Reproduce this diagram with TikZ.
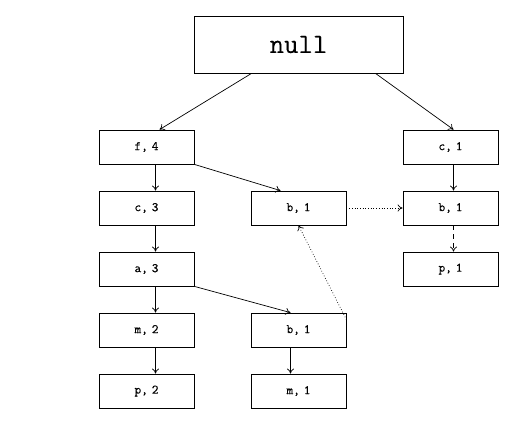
\documentclass[tikz,border=0pt]{standalone}
\usepackage{fontspec}
\setmonofont[FakeBold=0.2]{Latin Modern Mono}
\usetikzlibrary{arrows.meta}
\begin{document}
\begin{tikzpicture}[x=1pt,y=-1pt,
  box/.style={draw,line width=0.8pt,minimum width=95pt,minimum height=34pt,inner sep=0pt,font=\ttfamily\fontsize{13}{15}\selectfont},
  bigbox/.style={draw,line width=0.8pt,minimum width=209pt,minimum height=57pt,inner sep=0pt,font=\ttfamily\fontsize{28}{30}\selectfont},
  arr/.style={-{To[length=5pt,width=7pt]},line width=0.7pt},
  dotarr/.style={arr,dotted},
  dasharr/.style={arr,dash pattern=on 5pt off 4pt}]
\useasboundingbox[fill=white] (0,0) rectangle (529,433);
\node[bigbox] (null) at (298.5,44.5) {null};
\node[box] (f4) at (146.5,147) {f,\hspace{0.3em}4};
\node[box] (c3) at (146.5,208) {c,\hspace{0.3em}3};
\node[box] (a3) at (146.5,269) {a,\hspace{0.3em}3};
\node[box] (m2) at (146.5,330) {m,\hspace{0.3em}2};
\node[box] (p2) at (146.5,391) {p,\hspace{0.3em}2};
\node[box] (b1a) at (298.5,208) {b,\hspace{0.3em}1};
\node[box] (b1b) at (298.5,330) {b,\hspace{0.3em}1};
\node[box] (m1) at (298.5,391) {m,\hspace{0.3em}1};
\node[box] (c1) at (450.5,147) {c,\hspace{0.3em}1};
\node[box] (b1c) at (450.5,208) {b,\hspace{0.3em}1};
\node[box] (p1) at (450.5,269) {p,\hspace{0.3em}1};
\draw[arr] ([xshift=-47pt]null.south) -- ([xshift=13pt]f4.north);
\draw[arr] ([xshift=77pt]null.south) -- ([xshift=3pt]c1.north);
\draw[arr] ([xshift=9pt]f4.south) -- ([xshift=9pt]c3.north);
\draw[arr] ([xshift=9pt]c3.south) -- ([xshift=9pt]a3.north);
\draw[arr] ([xshift=9pt]a3.south) -- ([xshift=9pt]m2.north);
\draw[arr] ([xshift=9pt]m2.south) -- ([xshift=9pt]p2.north);
\draw[arr] (f4.south east) -- ([xshift=-18pt]b1a.north);
\draw[arr] (a3.south east) -- ([xshift=-8pt]b1b.north);
\draw[arr] ([xshift=-8pt]b1b.south) -- ([xshift=-8pt]m1.north);
\draw[arr] ([xshift=3pt]c1.south) -- ([xshift=3pt]b1c.north);
\draw[dasharr] ([xshift=3pt]b1c.south) -- ([xshift=3pt]p1.north);
\draw[dotarr] (b1a.east) -- (b1c.west);
\draw[dotarr] ([yshift=-7pt]b1b.north east) -- ([xshift=0pt]b1a.south);
\end{tikzpicture}
\end{document}
